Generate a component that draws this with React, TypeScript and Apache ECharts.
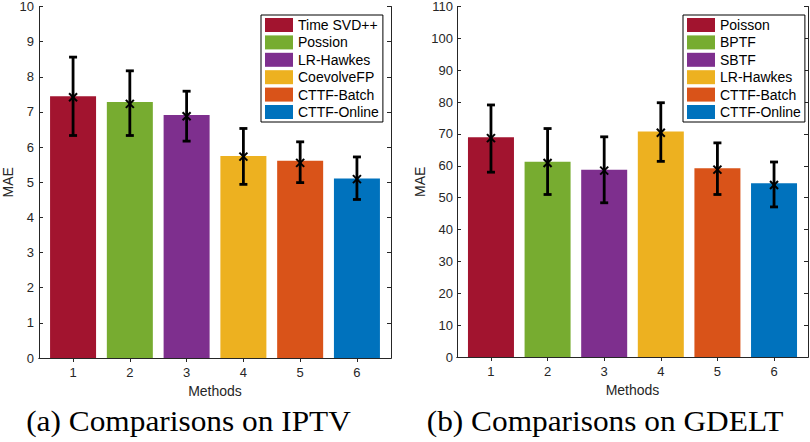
import React, { useEffect, useRef } from 'react';
import * as echarts from 'echarts';

// x positions of the six methods
const positions = [1, 2, 3, 4, 5, 6];
const barColors = ['#A2142F', '#77AC30', '#7E2F8E', '#EDB120', '#D95319', '#0072BD'];

// (a) IPTV
const methodsIPTV = ['Time SVD++', 'Possion', 'LR-Hawkes', 'CoevolveFP', 'CTTF-Batch', 'CTTF-Online'];
const maeIPTV = [7.45, 7.28, 6.91, 5.75, 5.61, 5.11];
const meanIPTV = [7.42, 7.23, 6.88, 5.73, 5.55, 5.09];
const lowIPTV = [6.33, 6.33, 6.17, 4.94, 4.99, 4.51];
const highIPTV = [8.56, 8.17, 7.59, 6.53, 6.15, 5.72];

// (b) GDELT
const methodsGDELT = ['Poisson', 'BPTF', 'SBTF', 'LR-Hawkes', 'CTTF-Batch', 'CTTF-Online'];
const maeGDELT = [69.0, 61.3, 58.8, 70.8, 59.2, 54.5];
const meanGDELT = [68.7, 60.9, 58.5, 70.4, 58.8, 54.0];
const lowGDELT = [58.0, 51.0, 48.4, 61.4, 51.0, 47.1];
const highGDELT = [79.1, 71.7, 69.1, 79.8, 67.2, 61.2];

const captions = ['(a) Comparisons on IPTV', '(b) Comparisons on GDELT'];

const AXIS = '#262626';
const FONT = 'Liberation Sans, Arial, sans-serif';

const xAxes = (grid: number) => {
  const common = {
    type: 'value' as const,
    gridIndex: grid,
    min: 0.4,
    max: 6.6,
    splitLine: { show: false },
    axisLine: { show: true, lineStyle: { color: AXIS, width: 1 } },
    axisTick: { show: true, inside: true, length: 4, customValues: positions, lineStyle: { color: AXIS } },
  };
  return [
    {
      ...common,
      position: 'bottom',
      axisLabel: { customValues: positions, color: AXIS, fontSize: 13, margin: 8 },
      name: 'Methods',
      nameLocation: 'middle',
      nameGap: 26,
      nameTextStyle: { color: AXIS, fontSize: 14 },
    },
    { ...common, position: 'top', axisLabel: { show: false } },
  ];
};

const yAxes = (grid: number, max: number, interval: number, gap: number, margin: number) => {
  const common = {
    type: 'value' as const,
    gridIndex: grid,
    min: 0,
    max,
    interval,
    splitLine: { show: false },
    axisLine: { show: true, lineStyle: { color: AXIS, width: 1 } },
    axisTick: { show: true, inside: true, length: 4, lineStyle: { color: AXIS } },
  };
  return [
    {
      ...common,
      position: 'left',
      axisLabel: { color: AXIS, fontSize: 13, margin },
      name: 'MAE',
      nameLocation: 'middle',
      nameGap: gap,
      nameTextStyle: { color: AXIS, fontSize: 14 },
    },
    { ...common, position: 'right', axisLabel: { show: false } },
  ];
};

const barSeries = (names: string[], values: number[], xi: number, yi: number) =>
  names.map((name, i) => ({
    type: 'bar',
    name,
    xAxisIndex: xi,
    yAxisIndex: yi,
    stack: 'panel' + xi,
    barWidth: 46,
    itemStyle: { color: barColors[i] },
    data: [[positions[i], values[i]]],
  }));

const errorSeries = (mean: number[], low: number[], high: number[], xi: number, yi: number) => ({
  type: 'custom',
  xAxisIndex: xi,
  yAxisIndex: yi,
  z: 10,
  encode: { x: 0, y: [1, 2, 3] },
  data: positions.map((p, i) => [p, mean[i], low[i], high[i]]),
  renderItem: (_params: any, api: any) => {
    const x = api.value(0);
    const m = api.coord([x, api.value(1)]);
    const lo = api.coord([x, api.value(2)]);
    const hi = api.coord([x, api.value(3)]);
    const cap = 4;
    const k = 4;
    const style = { stroke: '#000', lineWidth: 2.8 };
    const xs = { stroke: '#000', lineWidth: 2 };
    return {
      type: 'group',
      children: [
        { type: 'line', shape: { x1: lo[0], y1: lo[1], x2: hi[0], y2: hi[1] }, style },
        { type: 'line', shape: { x1: hi[0] - cap, y1: hi[1], x2: hi[0] + cap, y2: hi[1] }, style },
        { type: 'line', shape: { x1: lo[0] - cap, y1: lo[1], x2: lo[0] + cap, y2: lo[1] }, style },
        { type: 'line', shape: { x1: m[0] - k, y1: m[1] - k, x2: m[0] + k, y2: m[1] + k }, style: xs },
        { type: 'line', shape: { x1: m[0] - k, y1: m[1] + k, x2: m[0] + k, y2: m[1] - k }, style: xs },
      ],
    };
  },
});

const legendFor = (names: string[], left: number) => ({
  orient: 'vertical',
  left,
  top: 15,
  itemWidth: 28,
  itemHeight: 14,
  itemGap: 3.4,
  padding: [3, 4, 3, 4],
  borderColor: '#000',
  borderWidth: 1,
  backgroundColor: '#fff',
  icon: 'rect',
  selectedMode: false,
  textStyle: { fontSize: 14, color: '#000', fontFamily: FONT },
  data: names.map((name, i) => ({ name, itemStyle: { color: barColors[i] } })),
});

const captionText = (text: string, x: number) => ({
  type: 'text',
  x,
  y: 421,
  scaleX: 1.045,
  style: {
    text,
    font: '30px "Liberation Serif", "Times New Roman", serif',
    fill: '#000',
    align: 'center',
    verticalAlign: 'middle',
  },
});

const App: React.FC = () => {
  const chartRef = useRef<HTMLDivElement>(null);

  useEffect(() => {
    if (!chartRef.current) return;
    const chart = echarts.init(chartRef.current, null, { renderer: 'svg' });

    chart.setOption({
      animation: false,
      backgroundColor: '#fff',
      textStyle: { fontFamily: FONT },
      grid: [
        { left: 38, right: 419, top: 6, bottom: 84 },
        { left: 457, right: 2, top: 6, bottom: 85 },
      ],
      xAxis: [...xAxes(0), ...xAxes(1)],
      yAxis: [...yAxes(0, 10, 1, 24, 5), ...yAxes(1, 110, 10, 28, 4)],
      legend: [legendFor(methodsIPTV, 261), legendFor(methodsGDELT, 683)],
      series: [
        ...barSeries(methodsIPTV, maeIPTV, 0, 0),
        errorSeries(meanIPTV, lowIPTV, highIPTV, 0, 0),
        ...barSeries(methodsGDELT, maeGDELT, 2, 2),
        errorSeries(meanGDELT, lowGDELT, highGDELT, 2, 2),
      ],
      graphic: [captionText(captions[0], 188.5), captionText(captions[1], 605)],
    });

    return () => {
      chart.dispose();
    };
  }, []);

  return (
    <div
      ref={chartRef}
      style={{ position: 'fixed', left: 0, top: 0, width: 810, height: 442 }}
    ></div>
  );
};

export default App;
